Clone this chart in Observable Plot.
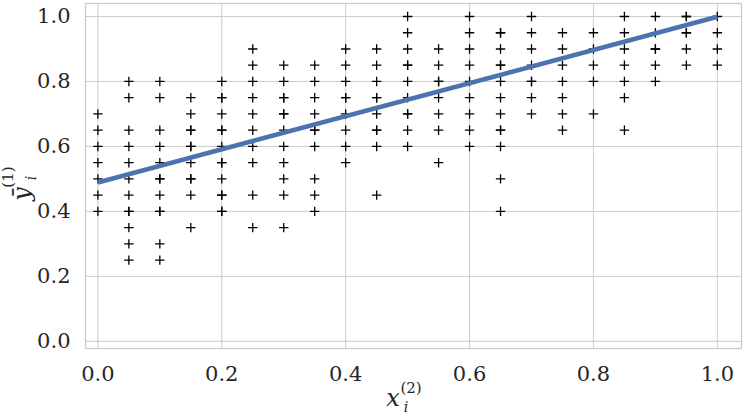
<!DOCTYPE html>
<html>
<head>
<meta charset="utf-8">
<script src="https://cdn.jsdelivr.net/npm/d3@7"></script>
<script src="https://cdn.jsdelivr.net/npm/@observablehq/plot@0.6"></script>
<style>
  html, body { margin: 0; padding: 0; background: #fff; }
  #chart svg { display: block; }
</style>
</head>
<body>
<div id="chart"></div>
<script>
// x positions of the point columns
const xCols = [0, 0.05, 0.1, 0.15, 0.2, 0.25, 0.3, 0.35, 0.4, 0.45, 0.5,
               0.55, 0.6, 0.65, 0.7, 0.75, 0.8, 0.85, 0.9, 0.95, 1.0];
// y values of the points in each column (repeated values = overlapping points)
const yCols = [
  [0.7, 0.65, 0.6, 0.55, 0.5, 0.45, 0.4],
  [0.8, 0.75, 0.65, 0.6, 0.55, 0.5, 0.45, 0.4, 0.4, 0.35, 0.3, 0.25],
  [0.8, 0.75, 0.65, 0.6, 0.55, 0.5, 0.5, 0.45, 0.4, 0.4, 0.3, 0.25],
  [0.75, 0.7, 0.65, 0.65, 0.6, 0.6, 0.55, 0.5, 0.5, 0.45, 0.35],
  [0.8, 0.75, 0.75, 0.7, 0.65, 0.65, 0.6, 0.55, 0.55, 0.5, 0.45, 0.45, 0.4, 0.4],
  [0.9, 0.85, 0.8, 0.75, 0.7, 0.65, 0.6, 0.55, 0.45, 0.35],
  [0.85, 0.8, 0.75, 0.75, 0.7, 0.7, 0.65, 0.6, 0.55, 0.5, 0.45, 0.35],
  [0.85, 0.8, 0.75, 0.7, 0.65, 0.65, 0.6, 0.5, 0.45, 0.4],
  [0.9, 0.85, 0.8, 0.75, 0.75, 0.7, 0.65, 0.6, 0.55],
  [0.9, 0.85, 0.8, 0.75, 0.75, 0.7, 0.65, 0.65, 0.6, 0.45],
  [1.0, 0.95, 0.9, 0.85, 0.85, 0.8, 0.75, 0.7, 0.7, 0.65, 0.6],
  [0.9, 0.85, 0.8, 0.8, 0.75, 0.7, 0.65, 0.55],
  [1.0, 0.95, 0.9, 0.85, 0.8, 0.75, 0.7, 0.65, 0.6],
  [0.95, 0.95, 0.9, 0.85, 0.85, 0.8, 0.75, 0.7, 0.65, 0.65, 0.6, 0.5, 0.4],
  [1.0, 0.95, 0.9, 0.85, 0.8, 0.8, 0.75, 0.7],
  [0.95, 0.9, 0.85, 0.8, 0.75, 0.7, 0.65],
  [0.95, 0.9, 0.85, 0.8, 0.7],
  [1.0, 0.95, 0.9, 0.85, 0.8, 0.75, 0.65],
  [1.0, 0.95, 0.9, 0.9, 0.85, 0.8],
  [1.0, 1.0, 0.95, 0.95, 0.9, 0.85],
  [1.0, 0.95, 0.9, 0.85]
];
// regression line end points
const lineX = [0, 1];
const lineY = [0.489, 0.999];
// ticks
const xTicks = [0, 0.2, 0.4, 0.6, 0.8, 1.0];
const yTicks = [0, 0.2, 0.4, 0.6, 0.8, 1.0];

const points = xCols.flatMap((x, i) => yCols[i].map(y => ({x, y})));
const lineData = lineX.map((x, i) => ({x, y: lineY[i]}));

const plusSymbol = {
  draw(ctx, size) {
    const r = Math.sqrt(size / Math.PI);
    ctx.moveTo(-r, 0); ctx.lineTo(r, 0);
    ctx.moveTo(0, -r); ctx.lineTo(0, r);
  }
};

const serif = "DejaVu Serif";
const grid = "#cccccc";
const chart = Plot.plot({
  width: 745,
  height: 416,
  marginLeft: 85,
  marginRight: 4,
  marginTop: 3,
  marginBottom: 68,
  style: {fontFamily: serif, fontSize: "21px", color: "#262626", background: "#fff"},
  x: {domain: [-0.02, 1.039]},
  y: {domain: [-0.022, 1.04]},
  marks: [
    Plot.gridX(xTicks, {stroke: grid, strokeOpacity: 1, strokeWidth: 1}),
    Plot.gridY(yTicks, {stroke: grid, strokeOpacity: 1, strokeWidth: 1}),
    Plot.frame({stroke: grid, strokeWidth: 1.3}),
    Plot.dot(points, {x: "x", y: "y", r: 4.7, symbol: plusSymbol, stroke: "#000", fill: "none", strokeWidth: 1.3}),
    Plot.line(lineData, {x: "x", y: "y", stroke: "#4C72B0", strokeWidth: 4.6, strokeLinecap: "butt"}),
    Plot.axisX(xTicks, {tickSize: 0, tickPadding: 18, tickFormat: d3.format(".1f"), label: null, fontSize: 21}),
    Plot.axisY(yTicks, {tickSize: 0, tickPadding: 15, tickFormat: d3.format(".1f"), label: null, fontSize: 21})
  ]
});
document.getElementById("chart").appendChild(chart);

// axis titles with sub/superscripts
const svg = d3.select(chart);
const lab = svg.append("g").attr("font-family", serif).attr("fill", "#262626");
lab.append("text").attr("x", 393).attr("y", 406).attr("font-size", 24).attr("font-style", "italic").text("x");
lab.append("text").attr("x", 406).attr("y", 412).attr("font-size", 14).attr("font-style", "italic").text("i");
lab.append("text").attr("x", 411).attr("y", 393).attr("font-size", 15).text("(2)");

const ylab = lab.append("g").attr("transform", "rotate(-90)");
ylab.append("text").attr("x", -194).attr("y", 30).attr("font-size", 24).attr("font-style", "italic").text("ȳ");
ylab.append("text").attr("x", -178).attr("y", 36).attr("font-size", 14).attr("font-style", "italic").text("i");
ylab.append("text").attr("x", -177).attr("y", 13).attr("font-size", 15).text("(1)");
</script>
</body>
</html>
